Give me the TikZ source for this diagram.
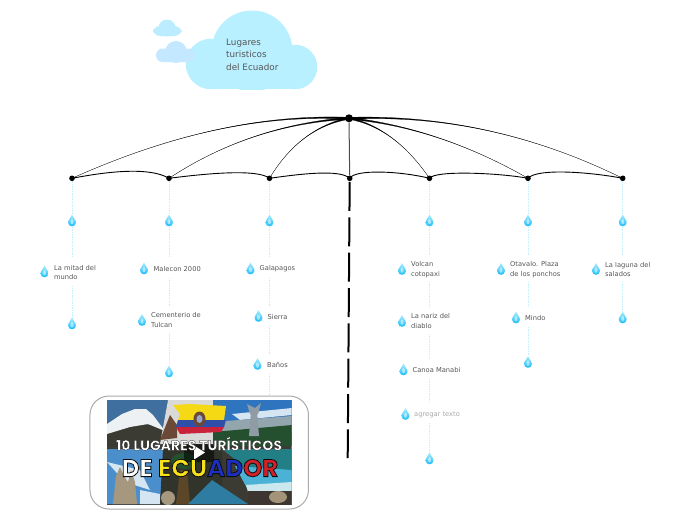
\documentclass[tikz,border=0pt]{standalone}
\usepackage{fontspec}
\setmainfont{DejaVu Sans}
\newfontfamily\thumbfont{Poppins}
\usetikzlibrary{shapes.geometric}
\definecolor{cloudmain}{HTML}{B9F0FF}
\definecolor{cloudone}{HTML}{BCECFF}
\definecolor{cloudtwo}{HTML}{C4E8FF}
\definecolor{dotline}{HTML}{C0F0FB}
\definecolor{droptop}{HTML}{A8ECFE}
\definecolor{dropbot}{HTML}{1CBDF8}
\definecolor{labelgrey}{HTML}{555555}
\definecolor{hintgrey}{HTML}{A8A8A8}
\definecolor{frameline}{HTML}{AAAAAA}
\definecolor{ecyellow}{HTML}{F7E11A}
\definecolor{ecblue}{HTML}{1C2FC0}
\definecolor{ecred}{HTML}{D5202A}
\tikzset{
  dotnode/.style={circle,fill=black,inner sep=0pt,minimum size=5.6pt},
  hubnode/.style={circle,fill=black,inner sep=0pt,minimum size=8pt},
  dropbox/.style={inner sep=0pt,minimum width=8pt,minimum height=12pt},
  link/.style={draw=dotline,line width=1pt,dash pattern=on 1.4pt off 1pt},
  rib/.style={fill=black,draw=black,line width=.25pt},
  canopy/.style={draw=black,line width=.9pt},
  pole/.style={draw=black,line width=2pt,dash pattern=on 29pt off 6.35pt,dash phase=31.7pt},
  lab/.style={anchor=west,align=left,inner sep=0pt,text=labelgrey,font=\fontsize{6.7}{9.6}\selectfont},
  hint/.style={lab,text=hintgrey},
  title/.style={anchor=west,align=left,inner sep=0pt,text=labelgrey,font=\fontsize{8.8}{12.6}\selectfont},
  videoframe/.style={draw=frameline,line width=1pt,fill=white,rounded corners=19pt,minimum width=218.5pt,minimum height=113pt,inner sep=0pt}
}
\newcommand{\Drop}[3]{%
  \node[dropbox] (#1) at (#2,#3) {};
  \path[shift={(#1.center)},top color=droptop,bottom color=dropbot]
    (0,-6) .. controls (0.8,-3.2) and (4,-0.5) .. (4,2)
    .. controls (4,4.4) and (2,5.8) .. (0,5.8)
    .. controls (-2,5.8) and (-4,4.4) .. (-4,2)
    .. controls (-4,-0.5) and (-0.8,-3.2) .. cycle;
  \fill[shift={(#1.center)},white,opacity=.5] (0,1.2) ellipse (1.5 and 2.6);
}
\newcommand{\Rib}[3]{\path[rib] (hubt) .. controls #2 and #3 .. (#1.center) .. controls #3 and #2 .. (hubb) -- cycle;}
\newcommand{\Outl}[2]{{\color{#1}\special{pdf:code 0.05 0.05 0.05 RG}#2}}
\begin{document}
\begin{tikzpicture}[x=1pt,y=-1pt]
\useasboundingbox (0,0) rectangle (696,520);
% clouds
\fill[cloudone] (167,28) circle (8.5);
\fill[cloudone,rounded corners=7pt] (153,26) rectangle (181.5,36);
\begin{scope}
\clip (170,0) rectangle (330,89.3);
\fill[cloudmain] (252,51) circle (40.5);
\fill[cloudmain] (211,64) circle (25.3);
\fill[cloudmain] (295,67) circle (22.3);
\fill[cloudmain] (211,60) rectangle (295,89.3);
\end{scope}
\fill[cloudtwo] (176,52) circle (11);
\fill[cloudtwo,rounded corners=6.5pt] (156,48.5) rectangle (195,62);
\node[title] (cloudtext) at (226,54.5) {Lugares\\turisticos\\del Ecuador};
% hub and stations
\node[hubnode] (hub) at (349,118.3) {};
\coordinate (hubt) at (349,117.3);
\coordinate (hubb) at (349,119.3);
\node[dotnode] (n1) at (72,178.3) {};
\node[dotnode] (n2) at (169,178.3) {};
\node[dotnode] (n3) at (269.5,178.3) {};
\node[dotnode] (n4) at (349.7,178.3) {};
\node[dotnode] (n5) at (429.5,178.3) {};
\node[dotnode] (n6) at (528,178.3) {};
\node[dotnode] (n7) at (622.7,178.3) {};
\coordinate (poleend) at (347.7,458);
% ribs
\Rib{n1}{(263,114)}{(170.7,134)}
\Rib{n2}{(283,122.7)}{(223,142.7)}
\Rib{n3}{(316.3,124.7)}{(289.7,144.7)}
\Rib{n5}{(379.7,124.7)}{(406.5,144.7)}
\Rib{n6}{(409.7,124.7)}{(469.3,144.7)}
\Rib{n7}{(443,114.7)}{(534.2,134.7)}
\draw[black!70,line width=1pt] (hub) -- (n4);
% canopy
\draw[canopy] (n1.center) .. controls (110,171) and (150,167) .. (n2.center);
\draw[canopy] (n2.center) .. controls (210,173) and (258,169) .. (n3.center);
\draw[canopy] (n3.center) .. controls (300,174) and (340,169) .. (n4.center);
\draw[canopy] (n4.center) .. controls (355,169) and (400,171) .. (n5.center);
\draw[canopy] (n5.center) .. controls (435,170) and (500,173) .. (n6.center);
\draw[canopy] (n6.center) .. controls (537,168) and (590,172) .. (n7.center);
\draw[pole] (n4.center) -- (poleend);
% column 1
\Drop{d1a}{72}{220.5}
\Drop{d1b}{44.5}{271.5}
\Drop{d1c}{72}{323.5}
\node[lab] (t1b) at (54,272.5) {La mitad del\\mundo};
\coordinate (u1b) at (72,257); \coordinate (v1b) at (72,285.5);
\draw[link] (n1) -- (d1a); \draw[link] (d1a) -- (u1b); \draw[link] (v1b) -- (d1c);
% column 2
\Drop{d2a}{169}{220.5}
\Drop{d2b}{144}{268.5}
\Drop{d2c}{142}{320}
\Drop{d2d}{169}{371.5}
\node[lab] (t2b) at (153.5,269) {Malecon 2000};
\node[lab] (t2c) at (151,320) {Cementerio de\\Tulcan};
\coordinate (u2b) at (169,257); \coordinate (v2b) at (169,278);
\coordinate (u2c) at (169,305.5); \coordinate (v2c) at (169,333);
\draw[link] (n2) -- (d2a); \draw[link] (d2a) -- (u2b); \draw[link] (v2b) -- (u2c); \draw[link] (v2c) -- (d2d);
% column 3
\Drop{d3a}{269.5}{220.5}
\Drop{d3b}{250.5}{268.5}
\Drop{d3c}{258.5}{316}
\Drop{d3d}{257.5}{364}
\node[lab] (t3b) at (259.5,269) {Galapagos};
\node[lab] (t3c) at (267.5,317) {Sierra};
\node[lab] (t3d) at (267,365) {Baños};
\coordinate (u3b) at (269.5,257); \coordinate (v3b) at (269.5,278);
\coordinate (u3c) at (269.5,305.5); \coordinate (v3c) at (269.5,326);
\coordinate (u3d) at (269.5,354); \coordinate (v3d) at (269.5,374);
\coordinate (u3e) at (269.5,400);
\draw[link] (n3) -- (d3a); \draw[link] (d3a) -- (u3b); \draw[link] (v3b) -- (u3c); \draw[link] (v3c) -- (u3d); \draw[link] (v3d) -- (u3e);
% column 5
\Drop{d5a}{429.5}{220.5}
\Drop{d5b}{402}{269}
\Drop{d5c}{402}{321}
\Drop{d5d}{403.5}{369.5}
\Drop{d5e}{405.5}{414}
\Drop{d5f}{429.5}{458.5}
\node[lab] (t5b) at (411,269.5) {Volcan\\cotopaxi};
\node[lab] (t5c) at (411,321) {La nariz del\\diablo};
\node[lab] (t5d) at (412.5,370) {Canoa Manabi};
\node[hint] (t5e) at (414,415) {agregar texto};
\coordinate (u5b) at (429.5,255); \coordinate (v5b) at (429.5,282);
\coordinate (u5c) at (429.5,307); \coordinate (v5c) at (429.5,334);
\coordinate (u5d) at (429.5,358.5); \coordinate (v5d) at (429.5,379);
\coordinate (u5e) at (429.5,403); \coordinate (v5e) at (429.5,423);
\draw[link] (n5) -- (d5a); \draw[link] (d5a) -- (u5b); \draw[link] (v5b) -- (u5c); \draw[link] (v5c) -- (u5d); \draw[link] (v5d) -- (u5e); \draw[link] (v5e) -- (d5f);
% column 6
\Drop{d6a}{528}{220.5}
\Drop{d6b}{501}{269}
\Drop{d6c}{516}{317.5}
\Drop{d6d}{528}{362}
\node[lab] (t6b) at (510,269.5) {Otavalo. Plaza\\de los ponchos};
\node[lab] (t6c) at (525,318) {Mindo};
\coordinate (u6b) at (528,255); \coordinate (v6b) at (528,282);
\coordinate (u6c) at (528,307); \coordinate (v6c) at (528,327);
\draw[link] (n6) -- (d6a); \draw[link] (d6a) -- (u6b); \draw[link] (v6b) -- (u6c); \draw[link] (v6c) -- (d6d);
% column 7
\Drop{d7a}{622.7}{220.5}
\Drop{d7b}{596}{269}
\Drop{d7c}{622.7}{317.5}
\node[lab] (t7b) at (605,269.5) {La laguna del\\salados};
\coordinate (u7b) at (622.7,255); \coordinate (v7b) at (622.7,282);
\draw[link] (n7) -- (d7a); \draw[link] (d7a) -- (u7b); \draw[link] (v7b) -- (d7c);
% video
\node[videoframe] (video) at (199.2,452.5) {};
\definecolor{tSky}{HTML}{3F6F9E}
\definecolor{tGround}{HTML}{3B3A33}
\definecolor{tSnow}{HTML}{EEF1F4}
\definecolor{tHaze}{HTML}{D9DAD8}
\definecolor{tTower}{HTML}{6A4A36}
\definecolor{tSkyR}{HTML}{2F74BE}
\definecolor{tFar}{HTML}{93A6AD}
\definecolor{tGreen}{HTML}{25502F}
\definecolor{tStat}{HTML}{8F9BA5}
\definecolor{tSkyL}{HTML}{4A8FCC}
\definecolor{tCloud}{HTML}{D5E5F1}
\definecolor{tChurch}{HTML}{A6977F}
\definecolor{tDark}{HTML}{30342A}
\definecolor{tTrunk}{HTML}{5B4728}
\definecolor{tSea}{HTML}{2E7CA2}
\definecolor{tTeal}{HTML}{237F86}
\definecolor{tTurq}{HTML}{4BB2D6}
\definecolor{tSand}{HTML}{CBE8EE}
\definecolor{tRock}{HTML}{3D3630}
\definecolor{tShell}{HTML}{A39379}
\definecolor{fYel}{HTML}{F5D914}
\definecolor{fBlu}{HTML}{2E4EA8}
\definecolor{fRed}{HTML}{C8233A}
\begin{scope}
\clip (107,400.5) rectangle (291.7,504.5);
\fill[tGround] (107,400) rectangle (292,505);
\fill[tSky] (107,400) -- (168,400) -- (160,447) -- (107,447) -- cycle;
\fill[tGround] (107,432) -- (125,420) -- (165,428) -- (160,447) -- (107,447) -- cycle;
\fill[tSnow] (107,424) -- (122,414) -- (135,409) -- (146,409) -- (153,415) -- (165,431) -- (148,424) -- (130,427) -- (107,434) -- cycle;
\fill[tHaze] (168,400) -- (214,400) -- (214,444) -- (160,444) -- cycle;
\fill[tTower] (170,415) -- (177,425) -- (177,438) -- (160,440) -- cycle;
\fill[tSkyR] (213,400) rectangle (292,430);
\fill[tCloud] (232,414) -- (292,408) -- (292,415) -- (240,420) -- cycle;
\fill[tFar] (213,422) -- (292,416) -- (292,432) -- (213,434) -- cycle;
\fill[tGreen] (213,432) -- (292,425) -- (292,446) -- (213,446) -- cycle;
\fill[tStat] (251,411) -- (257,411) -- (259,436) -- (249,436) -- cycle;
\fill[tStat] (247,404) -- (255,408) -- (261,403) -- (258,414) -- (250,414) -- cycle;
\fill[fYel] (173,405) -- (190,404) -- (226,406) -- (224,420) -- (178,420) -- (180,414) -- cycle;
\fill[fBlu] (178,420) -- (226,420) -- (224,427) -- (176,427) -- cycle;
\fill[fRed] (176,427) -- (224,427) -- (221,432) -- (180,434) -- cycle;
\fill[tTower] (199.5,419) ellipse (6 and 7.5);
\fill[fBlu!50!white] (199.5,419) ellipse (3 and 4);
\fill[tSkyL] (107,449) -- (164,449) -- (160,504) -- (107,504) -- cycle;
\fill[tCloud] (107,462) -- (140,470) -- (150,490) -- (125,482) -- cycle;
\fill[tChurch] (113,504) -- (116,476) -- (120,467) -- (124,476) -- (128,482) -- (131,470) -- (135,482) -- (137,504) -- cycle;
\fill[tCloud] (140,490) -- (160,494) -- (160,504) -- (140,504) -- cycle;
\fill[tDark] (163,449) -- (222,449) -- (222,504) -- (160,504) -- cycle;
\fill[tTrunk] (176,504) -- (180,470) -- (187,470) -- (190,504) -- cycle;
\fill[tChurch] (168,498) circle (7);
\fill[tGreen] (184,461) ellipse (13 and 8);
\fill[tSea] (188,504) -- (212,480) -- (248,504) -- cycle;
\fill[tTeal] (222,449) -- (292,449) -- (292,470) -- (248,470) -- cycle;
\fill[tTurq] (235,466) -- (292,470) -- (292,487) -- (248,490) -- cycle;
\fill[tSand] (246,485) -- (292,482) -- (292,491) -- (248,492) -- cycle;
\fill[tRock] (248,491) rectangle (292,505);
\fill[tShell] (278,497) ellipse (9 and 6);
\fill[black,opacity=.55,rounded corners=3pt] (184,444) rectangle (214,462);
\fill[white] (194,445.5) -- (194,459.5) -- (205,452.5) -- cycle;
\end{scope}
\node[inner sep=0pt] (thumbtitle) at (199,443.5) {\thumbfont\bfseries\fontsize{14}{16}\selectfont\special{pdf:code 2 Tr 0.25 w}\Outl{white}{10 LUGARES TURÍSTICOS}\special{pdf:code 0 Tr}};
\node[inner sep=0pt] (thumbname) at (200,468) {\thumbfont\bfseries\fontsize{24.5}{26}\selectfont\special{pdf:code 2 Tr 0.8 w}\Outl{white}{DE }\Outl{ecyellow}{ECU}\Outl{ecblue}{AD}\Outl{ecred}{OR}\special{pdf:code 0 Tr}};
\end{tikzpicture}
\end{document}
